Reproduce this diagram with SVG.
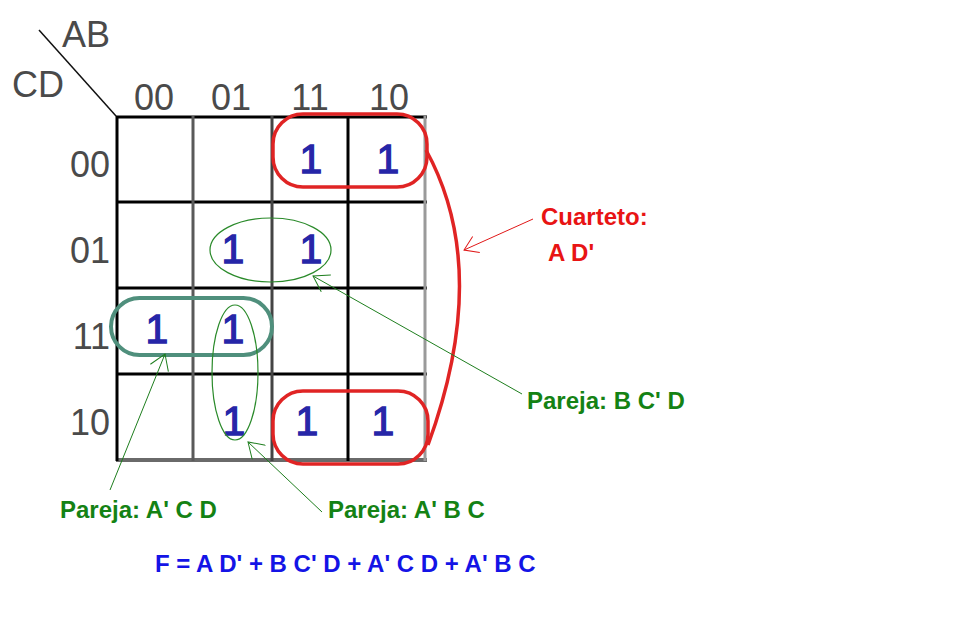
<svg xmlns="http://www.w3.org/2000/svg" width="961" height="622" viewBox="0 0 961 622">
<style>
.hdr{font-family:"Liberation Sans",Arial,sans-serif;font-size:36px;fill:#4a4a4a}
.one{font-family:"Liberation Sans",Arial,sans-serif;font-size:41px;fill:#2626a8;stroke:#2626a8;stroke-width:1.3;text-anchor:middle}
.lbl{font-family:"Liberation Sans",Arial,sans-serif;font-size:24px;font-weight:bold}
.red{fill:#e81414}
.grn{fill:#148214}
.blu{fill:#1414e6}
.gl{stroke:#000;stroke-width:3}
.redloop{fill:none;stroke:#e02424;stroke-width:3.5}
.gloop{fill:none;stroke:#2a8a2a;stroke-width:1.2}
.tloop{fill:none;stroke:#4f8f7c;stroke-width:4}
.rarr{fill:none;stroke:#e01818;stroke-width:1}
.garr{fill:none;stroke:#1e7e1e;stroke-width:1}
</style>
<defs>
<marker id="ah-red" markerUnits="userSpaceOnUse" viewBox="-16 -10 18 20" refX="0" refY="0" markerWidth="18" markerHeight="20" orient="auto">
<path d="M-13.4,-8.7 L0,0 L-13.4,8.7" fill="none" stroke="#e01818" stroke-width="1"/>
</marker>
<marker id="ah-grn" markerUnits="userSpaceOnUse" viewBox="-16 -10 18 20" refX="0" refY="0" markerWidth="18" markerHeight="20" orient="auto">
<path d="M-15,-9.7 L0,0 L-15,9.7" fill="none" stroke="#1e7e1e" stroke-width="1"/>
</marker>
</defs>
<rect width="961" height="622" fill="#fff"/>

<g id="header">
<line x1="39" y1="30" x2="116" y2="116" stroke="#111" stroke-width="1.5"/>
<text class="hdr" x="62" y="47">AB</text>
<text class="hdr" x="12" y="97">CD</text>
<text class="hdr" x="154" y="110" text-anchor="middle">00</text>
<text class="hdr" x="231" y="110" text-anchor="middle">01</text>
<text class="hdr" x="310" y="110" text-anchor="middle">11</text>
<text class="hdr" x="389" y="110" text-anchor="middle">10</text>
<text class="hdr" x="110" y="177" text-anchor="end">00</text>
<text class="hdr" x="110" y="263" text-anchor="end">01</text>
<text class="hdr" x="110" y="349" text-anchor="end">11</text>
<text class="hdr" x="110" y="435" text-anchor="end">10</text>
</g>

<g id="grid">
<line class="gl" x1="116" y1="117" x2="427" y2="117"/>
<line class="gl" x1="116" y1="202" x2="427" y2="202"/>
<line class="gl" x1="116" y1="288" x2="427" y2="288"/>
<line class="gl" x1="116" y1="374" x2="427" y2="374"/>
<line x1="116" y1="460" x2="427" y2="460" stroke="#6a6a6a" stroke-width="4"/>
<line class="gl" x1="117" y1="116" x2="117" y2="461"/>
<line x1="193" y1="116" x2="193" y2="461" stroke="#5a5a5a" stroke-width="3"/>
<line x1="272" y1="116" x2="272" y2="461" stroke="#444" stroke-width="3"/>
<line class="gl" x1="348" y1="116" x2="348" y2="461"/>
<line x1="425" y1="116" x2="425" y2="461" stroke="#9a9a9a" stroke-width="3"/>
</g>

<g id="ones">
<text class="one" x="311" y="173">1</text>
<text class="one" x="388" y="173">1</text>
<text class="one" x="233" y="263">1</text>
<text class="one" x="311" y="263">1</text>
<text class="one" x="157" y="343">1</text>
<text class="one" x="233" y="343">1</text>
<text class="one" x="234" y="435">1</text>
<text class="one" x="307" y="435">1</text>
<text class="one" x="383" y="435">1</text>
</g>

<g id="cuarteto">
<rect class="redloop" x="273" y="114" width="154" height="73" rx="30" ry="30"/>
<rect class="redloop" x="273" y="391" width="155" height="73" rx="30" ry="30"/>
<path class="redloop" d="M426,150 C470,230 470,330 428,445"/>
</g>

<g id="pareja-bcd">
<ellipse class="gloop" cx="270.5" cy="250" rx="60.5" ry="32"/>
</g>
<g id="pareja-acd">
<rect class="tloop" x="111" y="298" width="161" height="57" rx="28.5" ry="28.5"/>
</g>
<g id="pareja-abc">
<ellipse class="gloop" cx="235" cy="372.5" rx="23" ry="67.5"/>
</g>

<g id="connectors">
<line class="rarr" x1="533" y1="219" x2="464" y2="250" marker-end="url(#ah-red)"/>
<line class="garr" x1="522" y1="394" x2="313" y2="276" marker-end="url(#ah-grn)"/>
<line class="garr" x1="110" y1="490" x2="165" y2="354" marker-end="url(#ah-grn)"/>
<line class="garr" x1="322" y1="512" x2="248" y2="442" marker-end="url(#ah-grn)"/>
</g>

<g id="labels">
<text class="lbl red" x="541" y="225">Cuarteto:</text>
<text class="lbl red" x="548" y="261">A D'</text>
<text class="lbl grn" x="527" y="409">Pareja: B C' D</text>
<text class="lbl grn" x="60" y="518">Pareja: A' C D</text>
<text class="lbl grn" x="328" y="518">Pareja: A' B C</text>
<text class="lbl blu" x="155" y="572">F = A D' + B C' D + A' C D + A' B C</text>
</g>
</svg>
